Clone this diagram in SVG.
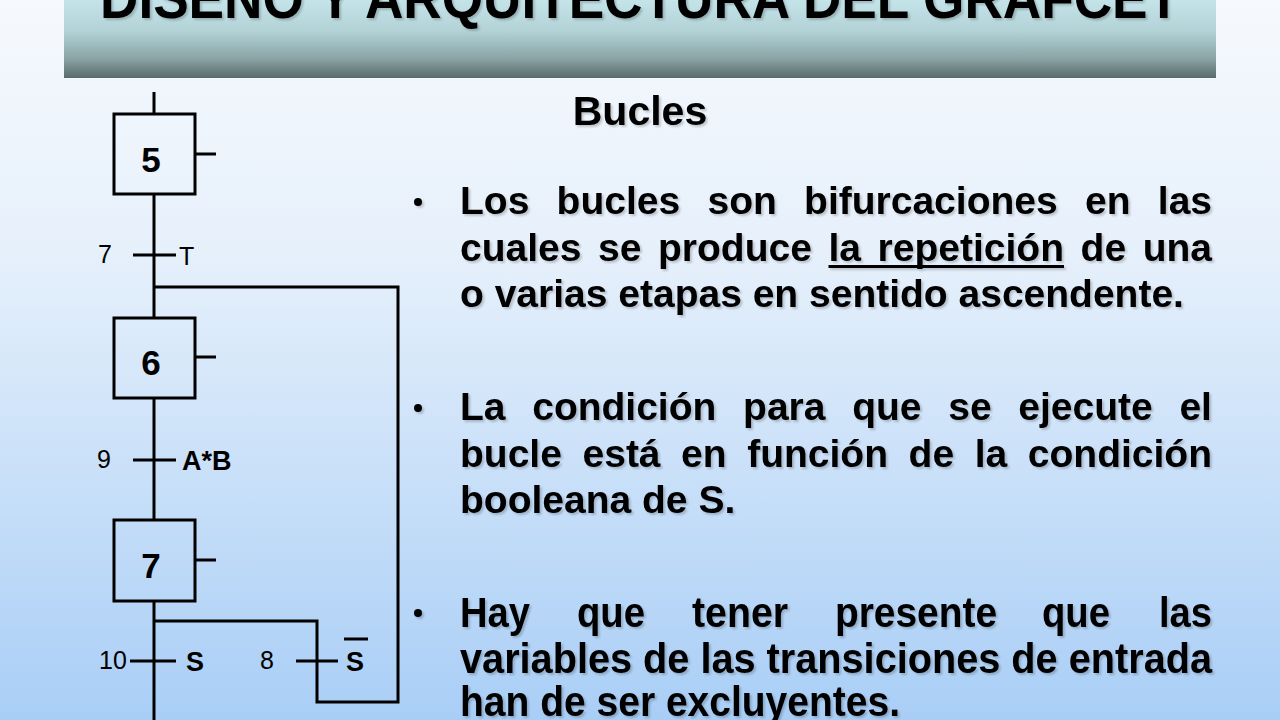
<svg xmlns="http://www.w3.org/2000/svg" width="1280" height="720" viewBox="0 0 1280 720">
<defs>
<linearGradient id="bg" x1="0" y1="0" x2="0" y2="1">
<stop offset="0" stop-color="#f6f9fd"/>
<stop offset="0.35" stop-color="#e6f0fb"/>
<stop offset="1" stop-color="#a9cef6"/>
</linearGradient>
<linearGradient id="hd" x1="0" y1="0" x2="0" y2="1">
<stop offset="0" stop-color="#c4e4ea"/>
<stop offset="0.4" stop-color="#b2d2d6"/>
<stop offset="0.75" stop-color="#8aa4a6"/>
<stop offset="1" stop-color="#5a6a6b"/>
</linearGradient>
<filter id="sh" x="-5%" y="-20%" width="110%" height="140%">
<feGaussianBlur in="SourceAlpha" stdDeviation="1"/>
<feOffset dx="1.5" dy="1.5" result="b"/>
<feComponentTransfer><feFuncA type="linear" slope="0.2"/></feComponentTransfer>
<feMerge><feMergeNode/><feMergeNode in="SourceGraphic"/></feMerge>
</filter>
</defs>
<style>
.t{font-family:"Liberation Sans",Arial,sans-serif;font-weight:bold;font-size:39px;fill:#000}
.n{font-family:"Liberation Sans",Arial,sans-serif;font-weight:bold;font-size:42px;fill:#000}
.st{fill:none;stroke:#000;stroke-width:3}
.ln{fill:none;stroke:#000;stroke-width:3}
.num{font-family:"Liberation Sans",Arial,sans-serif;font-weight:bold;font-size:35px;text-anchor:middle}
.lbl{font-family:"Liberation Sans",Arial,sans-serif;font-size:25px}
.lblb{font-family:"Liberation Sans",Arial,sans-serif;font-size:27px;font-weight:bold}
</style>
<rect width="1280" height="720" fill="url(#bg)"/>
<g id="header">
<rect x="64" y="0" width="1152" height="78" fill="url(#hd)"/>
<text x="100" y="18" textLength="1080" lengthAdjust="spacingAndGlyphs" font-family="Liberation Sans,Arial,sans-serif" font-weight="bold" font-size="58" fill="#000" filter="url(#sh)">DISEÑO Y ARQUITECTURA DEL GRAFCET</text>
</g>
<text x="640" y="125" text-anchor="middle" class="t" style="font-size:41px" filter="url(#sh)">Bucles</text>
<g id="text" filter="url(#sh)">
<circle cx="418" cy="202" r="4"/>
<circle cx="418" cy="408" r="4"/>
<circle cx="418" cy="613" r="4"/>
<text class="t" y="214"><tspan x="460">Los</tspan><tspan x="556.6">bucles</tspan><tspan x="707.5">son</tspan><tspan x="804.1">bifurcaciones</tspan><tspan x="1085">en</tspan><tspan x="1157.8">las</tspan></text>
<text class="t" y="261"><tspan x="460">cuales</tspan><tspan x="598">se</tspan><tspan x="658">produce</tspan><tspan x="828.5">la</tspan><tspan x="877.6">repetición</tspan><tspan x="1080.6">de</tspan><tspan x="1142.7">una</tspan></text>
<rect x="828.5" y="265" width="235.5" height="3"/>
<text class="t" x="460" y="307">o varias etapas en sentido ascendente.</text>
<text class="t" y="420"><tspan x="460">La</tspan><tspan x="532.2">condición</tspan><tspan x="743.1">para</tspan><tspan x="852.2">que</tspan><tspan x="948.2">se</tspan><tspan x="1018.3">ejecute</tspan><tspan x="1179.4">el</tspan></text>
<text class="t" y="467"><tspan x="460">bucle</tspan><tspan x="582.5">está</tspan><tspan x="681.1">en</tspan><tspan x="747.2">función</tspan><tspan x="908.6">de</tspan><tspan x="974.7">la</tspan><tspan x="1027.8">condición</tspan></text>
<text class="t" x="460" y="513">booleana de S.</text>
<text class="n" x="460" y="627" textLength="70" lengthAdjust="spacingAndGlyphs">Hay</text>
<text class="n" x="577" y="627" textLength="68" lengthAdjust="spacingAndGlyphs">que</text>
<text class="n" x="692" y="627" textLength="96" lengthAdjust="spacingAndGlyphs">tener</text>
<text class="n" x="835" y="627" textLength="162" lengthAdjust="spacingAndGlyphs">presente</text>
<text class="n" x="1042" y="627" textLength="68" lengthAdjust="spacingAndGlyphs">que</text>
<text class="n" x="1159" y="627" textLength="53" lengthAdjust="spacingAndGlyphs">las</text>
<text class="n" x="460" y="673" textLength="752" lengthAdjust="spacingAndGlyphs">variables de las transiciones de entrada</text>
<text class="n" x="460" y="716" textLength="440" lengthAdjust="spacingAndGlyphs">han de ser excluyentes.</text>
</g>
<g id="connectors">
<line class="ln" x1="154" y1="92" x2="154" y2="113"/>
<line class="ln" x1="154" y1="195" x2="154" y2="317"/>
<line class="ln" x1="154" y1="398" x2="154" y2="519"/>
<line class="ln" x1="154" y1="601" x2="154" y2="720"/>
<polyline class="ln" points="154,287 398,287 398,702 317,702 317,621 154,621"/>
<line class="ln" x1="196" y1="154" x2="216" y2="154"/>
<line class="ln" x1="196" y1="357" x2="216" y2="357"/>
<line class="ln" x1="196" y1="560" x2="216" y2="560"/>
</g>
<g id="step5"><rect class="st" x="114" y="114" width="81" height="80"/><text class="num" x="151" y="172">5</text></g>
<g id="step6"><rect class="st" x="114" y="318" width="81" height="80"/><text class="num" x="151" y="375">6</text></g>
<g id="step7"><rect class="st" x="114" y="520" width="81" height="81"/><text class="num" x="151" y="578">7</text></g>
<g id="t7"><line class="ln" x1="133" y1="255" x2="176" y2="255"/><text class="lbl" x="98" y="263">7</text><text class="lbl" x="179" y="265">T</text></g>
<g id="t9"><line class="ln" x1="133" y1="460" x2="176" y2="460"/><text class="lbl" x="97" y="468">9</text><text class="lblb" x="182" y="470">A*B</text></g>
<g id="t10"><line class="ln" x1="130" y1="661" x2="176" y2="661"/><text class="lbl" x="99" y="669">10</text><text class="lblb" x="186" y="671">S</text></g>
<g id="t8"><line class="ln" x1="296" y1="661" x2="338" y2="661"/><text class="lbl" x="260" y="669">8</text><text class="lblb" x="346" y="671">S</text><line x1="344" y1="639" x2="368" y2="639" stroke="#000" stroke-width="3"/></g>
</svg>
